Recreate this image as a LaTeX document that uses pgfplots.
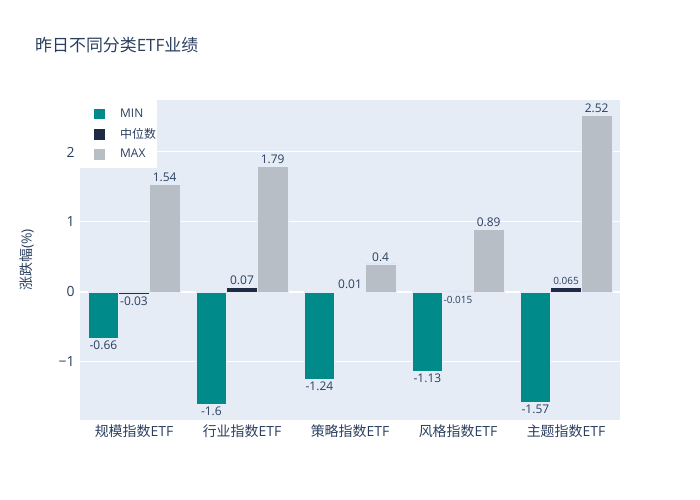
\documentclass[border=0pt]{standalone}
\usepackage{fontspec}
\setmainfont{Open Sans}
\newfontfamily\cjk{Noto Sans CJK SC}
\usepackage{pgfplots}
\pgfplotsset{compat=1.18}
\definecolor{txt}{HTML}{2A3F5F}
\definecolor{bg}{HTML}{E5ECF6}
\definecolor{cmin}{HTML}{008B8A}
\definecolor{cmed}{HTML}{1F2A44}
\definecolor{cmax}{HTML}{B8BEC6}
\begin{document}
\begin{tikzpicture}[x=1bp,y=1bp]
\path[use as bounding box] (0,0) rectangle (700,500);
\node[anchor=west, text=txt, font=\fontsize{17}{20}\selectfont, inner sep=0] at (35,455) {{\cjk 昨日不同分类}ETF{\cjk 业绩}};
\node[rotate=90, text=txt, font=\fontsize{14}{16}\selectfont, inner sep=0] at (27,240) {{\cjk 涨跌幅}(\%)};
\begin{axis}[
  at={(80bp,80bp)}, anchor=south west, scale only axis,
  width=540bp, height=320bp,
  xmin=-0.5, xmax=4.5, ymin=-1.829, ymax=2.743,
  axis background/.style={fill=bg},
  axis line style={draw=none},
  major tick length=0pt,
  ytick={-1,0,1,2}, yticklabels={−1,0,1,2},
  xtick={0,1,2,3,4},
  xticklabels={{\cjk 规模指数}ETF,{\cjk 行业指数}ETF,{\cjk 策略指数}ETF,{\cjk 风格指数}ETF,{\cjk 主题指数}ETF},
  ticklabel style={text=txt, font=\fontsize{14}{16}\selectfont},
  yticklabel style={xshift=-2bp},
  xticklabel style={yshift=-1bp},
  ymajorgrids, grid style={white, line width=1bp},
  ybar, bar width=0.2833,
  point meta=explicit symbolic,
  nodes near coords,
  every node near coord/.append style={text=txt, font=\fontsize{12}{14}\selectfont, inner sep=2.5bp},
  neg/.style={every node near coord/.append style={anchor=north}},
  legend style={at={(0,1)}, anchor=north west, fill=white, draw=none,
    font=\fontsize{12}{14}\selectfont, text=txt,
    inner xsep=0bp, inner ysep=7.5bp, row sep=7.5bp,
    nodes={inner xsep=0bp, inner ysep=1bp, text=txt}},
  legend cell align=left,
  legend image code/.code={\path[draw=none,fill=none] (0bp,0bp) rectangle (40bp,0bp); \path[#1, draw=none] (14bp,-5.5bp) rectangle (24.5bp,5bp);},
]
\draw[white, line width=2bp] (axis cs:-0.5,0) -- (axis cs:4.5,0);
\addplot[fill=cmin, draw=bg, line width=0.5bp, bar shift=-0.2833, neg] coordinates {
  (0,-0.66) [-0.66] (1,-1.6) [-1.6] (2,-1.24) [-1.24] (3,-1.13) [-1.13] (4,-1.57) [-1.57]};
\addlegendentry{MIN\hspace*{14bp}}
\addplot[fill=cmed, draw=bg, line width=0.5bp, bar shift=0] coordinates {
  (1,0.07) [0.07] (2,0.01) [0.01] (4,0.065) [{\fontsize{10}{12}\selectfont 0.065}]};
\addlegendentry{{\cjk 中位数}}
\addplot[fill=cmax, draw=bg, line width=0.5bp, bar shift=0.2833] coordinates {
  (0,1.54) [1.54] (1,1.79) [1.79] (2,0.4) [0.4] (3,0.89) [0.89] (4,2.52) [2.52]};
\addlegendentry{MAX}
\addplot[fill=cmed, draw=bg, line width=0.5bp, bar shift=0, neg, forget plot] coordinates {
  (0,-0.03) [-0.03] (3,-0.015) [{\fontsize{10}{12}\selectfont -0.015}]};
\end{axis}
\end{tikzpicture}
\end{document}
